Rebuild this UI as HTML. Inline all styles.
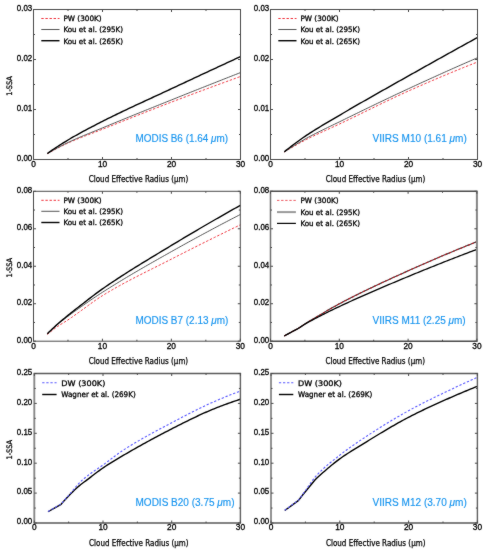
<!DOCTYPE html>
<html><head><meta charset="utf-8"><style>
html,body{margin:0;padding:0;background:#fff;width:485px;height:550px;overflow:hidden}
svg{display:block}
.t{font-family:"Liberation Sans", Arial, sans-serif;font-size:8.3px;fill:#000;stroke:#000;stroke-width:0.3px}
.xl{font-family:"DejaVu Sans", sans-serif;font-size:8.0px;fill:#000;stroke:#000;stroke-width:0.25px}
.yl{font-family:"DejaVu Sans", sans-serif;font-size:7.5px;fill:#000;stroke:#000;stroke-width:0.3px}
.lg{font-family:"DejaVu Sans", sans-serif;font-size:7.4px;fill:#000;stroke:#000;stroke-width:0.3px}
.lg2{font-family:"DejaVu Sans", sans-serif;font-size:7.6px;fill:#000;stroke:#000;stroke-width:0.3px}
.ti{font-family:"Liberation Sans", Arial, sans-serif;font-size:10px;fill:#1895ef;stroke:#1895ef;stroke-width:0.15px}
</style></head><body>
<svg width="485" height="550" viewBox="0 0 485 550">
<defs><filter id="sf" filterUnits="userSpaceOnUse" x="0" y="0" width="485" height="550" color-interpolation-filters="sRGB"><feConvolveMatrix order="3" kernelMatrix="1 2 1 2 36 2 1 2 1" edgeMode="duplicate"/></filter></defs>
<g filter="url(#sf)">
<rect width="485" height="550" fill="#fff"/>
<g><path d="M47.3 153.75 L49.02 152.78 L50.75 151.82 L52.48 150.87 L54.2 149.93 L55.92 149.01 L57.65 148.09 L59.38 147.2 L61.1 146.32 L62.83 145.46 L64.55 144.62 L66.28 143.8 L68 143 L69.72 142.22 L71.45 141.46 L73.17 140.72 L74.9 139.99 L76.62 139.28 L78.35 138.58 L80.08 137.89 L81.8 137.21 L83.53 136.53 L85.25 135.87 L86.97 135.21 L88.7 134.55 L90.42 133.89 L92.15 133.24 L93.88 132.58 L95.6 131.93 L97.33 131.27 L99.05 130.6 L100.78 129.93 L102.5 129.25 L104.22 128.57 L105.95 127.88 L107.67 127.2 L109.4 126.51 L111.12 125.83 L112.85 125.14 L114.58 124.46 L116.3 123.77 L118.03 123.08 L119.75 122.4 L121.47 121.71 L123.2 121.03 L124.92 120.34 L126.65 119.66 L128.38 118.97 L130.1 118.29 L131.82 117.6 L133.55 116.92 L135.28 116.23 L137 115.55 L138.72 114.87 L140.45 114.19 L142.18 113.51 L143.9 112.83 L145.62 112.15 L147.35 111.47 L149.07 110.79 L150.8 110.12 L152.53 109.44 L154.25 108.77 L155.97 108.09 L157.7 107.42 L159.43 106.75 L161.15 106.08 L162.88 105.41 L164.6 104.75 L166.32 104.08 L168.05 103.42 L169.78 102.76 L171.5 102.1 L173.22 101.44 L174.95 100.78 L176.68 100.13 L178.4 99.47 L180.12 98.82 L181.85 98.16 L183.57 97.51 L185.3 96.86 L187.03 96.21 L188.75 95.56 L190.47 94.91 L192.2 94.26 L193.93 93.61 L195.65 92.97 L197.38 92.32 L199.1 91.68 L200.82 91.03 L202.55 90.39 L204.28 89.75 L206 89.11 L207.72 88.47 L209.45 87.83 L211.18 87.19 L212.9 86.56 L214.62 85.92 L216.35 85.29 L218.07 84.65 L219.8 84.02 L221.53 83.39 L223.25 82.76 L224.97 82.13 L226.7 81.5 L228.43 80.87 L230.15 80.24 L231.88 79.62 L233.6 78.99 L235.32 78.37 L237.05 77.74 L238.78 77.12 L240.5 76.5" fill="none" stroke="#f0303a" stroke-width="1.0" stroke-dasharray="2.4 1.7" stroke-linejoin="round"/><path d="M47.3 153.6 L49.02 152.61 L50.75 151.62 L52.48 150.64 L54.2 149.68 L55.92 148.73 L57.65 147.79 L59.38 146.86 L61.1 145.96 L62.83 145.06 L64.55 144.19 L66.28 143.33 L68 142.5 L69.72 141.68 L71.45 140.89 L73.17 140.1 L74.9 139.33 L76.62 138.57 L78.35 137.83 L80.08 137.09 L81.8 136.36 L83.53 135.64 L85.25 134.93 L86.97 134.22 L88.7 133.52 L90.42 132.82 L92.15 132.12 L93.88 131.42 L95.6 130.72 L97.33 130.02 L99.05 129.32 L100.78 128.61 L102.5 127.9 L104.22 127.18 L105.95 126.47 L107.67 125.76 L109.4 125.04 L111.12 124.33 L112.85 123.62 L114.58 122.91 L116.3 122.2 L118.03 121.5 L119.75 120.79 L121.47 120.09 L123.2 119.38 L124.92 118.68 L126.65 117.98 L128.38 117.27 L130.1 116.57 L131.82 115.87 L133.55 115.17 L135.28 114.47 L137 113.77 L138.72 113.08 L140.45 112.38 L142.18 111.68 L143.9 110.99 L145.62 110.29 L147.35 109.6 L149.07 108.9 L150.8 108.21 L152.53 107.51 L154.25 106.82 L155.97 106.13 L157.7 105.43 L159.43 104.74 L161.15 104.05 L162.88 103.36 L164.6 102.67 L166.32 101.97 L168.05 101.28 L169.78 100.59 L171.5 99.9 L173.22 99.21 L174.95 98.52 L176.68 97.83 L178.4 97.14 L180.12 96.45 L181.85 95.76 L183.57 95.07 L185.3 94.38 L187.03 93.7 L188.75 93.01 L190.47 92.32 L192.2 91.64 L193.93 90.95 L195.65 90.27 L197.38 89.58 L199.1 88.9 L200.82 88.21 L202.55 87.53 L204.28 86.85 L206 86.16 L207.72 85.48 L209.45 84.8 L211.18 84.12 L212.9 83.44 L214.62 82.76 L216.35 82.08 L218.07 81.4 L219.8 80.72 L221.53 80.04 L223.25 79.36 L224.97 78.68 L226.7 78 L228.43 77.33 L230.15 76.65 L231.88 75.97 L233.6 75.3 L235.32 74.62 L237.05 73.95 L238.78 73.27 L240.5 72.6" fill="none" stroke="#555" stroke-width="1" stroke-linejoin="round"/><path d="M47.3 153.5 L49.02 152.31 L50.75 151.12 L52.48 149.95 L54.2 148.79 L55.92 147.63 L57.65 146.5 L59.38 145.37 L61.1 144.26 L62.83 143.17 L64.55 142.09 L66.28 141.04 L68 140 L69.72 138.98 L71.45 137.97 L73.17 136.97 L74.9 135.99 L76.62 135.02 L78.35 134.05 L80.08 133.1 L81.8 132.16 L83.53 131.22 L85.25 130.3 L86.97 129.38 L88.7 128.47 L90.42 127.56 L92.15 126.66 L93.88 125.77 L95.6 124.88 L97.33 123.99 L99.05 123.11 L100.78 122.23 L102.5 121.35 L104.22 120.48 L105.95 119.61 L107.67 118.74 L109.4 117.89 L111.12 117.03 L112.85 116.18 L114.58 115.34 L116.3 114.5 L118.03 113.66 L119.75 112.83 L121.47 112 L123.2 111.18 L124.92 110.36 L126.65 109.54 L128.38 108.73 L130.1 107.91 L131.82 107.1 L133.55 106.3 L135.28 105.49 L137 104.69 L138.72 103.88 L140.45 103.08 L142.18 102.28 L143.9 101.49 L145.62 100.69 L147.35 99.89 L149.07 99.1 L150.8 98.3 L152.53 97.51 L154.25 96.71 L155.97 95.91 L157.7 95.12 L159.43 94.32 L161.15 93.52 L162.88 92.72 L164.6 91.92 L166.32 91.12 L168.05 90.31 L169.78 89.51 L171.5 88.7 L173.22 87.89 L174.95 87.08 L176.68 86.27 L178.4 85.47 L180.12 84.66 L181.85 83.85 L183.57 83.04 L185.3 82.24 L187.03 81.43 L188.75 80.62 L190.47 79.82 L192.2 79.01 L193.93 78.21 L195.65 77.4 L197.38 76.6 L199.1 75.79 L200.82 74.99 L202.55 74.19 L204.28 73.38 L206 72.58 L207.72 71.78 L209.45 70.98 L211.18 70.18 L212.9 69.37 L214.62 68.57 L216.35 67.77 L218.07 66.97 L219.8 66.17 L221.53 65.37 L223.25 64.57 L224.97 63.77 L226.7 62.98 L228.43 62.18 L230.15 61.38 L231.88 60.58 L233.6 59.79 L235.32 58.99 L237.05 58.19 L238.78 57.4 L240.5 56.6" fill="none" stroke="#000" stroke-width="1.4" stroke-linejoin="round"/><rect x="33.5" y="9.5" width="207" height="150" fill="none" stroke="#4a4a4a" stroke-width="1"/><path d="M33.5 159.5v-2.5M33.5 9.5v2.5M68 159.5v-1.5M68 9.5v1.5M102.5 159.5v-2.5M102.5 9.5v2.5M137 159.5v-1.5M137 9.5v1.5M171.5 159.5v-2.5M171.5 9.5v2.5M206 159.5v-1.5M206 9.5v1.5M240.5 159.5v-2.5M240.5 9.5v2.5M33.5 159.5h2.5M240.5 159.5h-2.5M33.5 134.5h1.5M240.5 134.5h-1.5M33.5 109.5h2.5M240.5 109.5h-2.5M33.5 84.5h1.5M240.5 84.5h-1.5M33.5 59.5h2.5M240.5 59.5h-2.5M33.5 34.5h1.5M240.5 34.5h-1.5M33.5 9.5h2.5M240.5 9.5h-2.5" stroke="#4a4a4a" stroke-width="1" fill="none"/><text x="33.5" y="166.8" text-anchor="middle" class="t">0</text><text x="102.5" y="166.8" text-anchor="middle" class="t">10</text><text x="171.5" y="166.8" text-anchor="middle" class="t">20</text><text x="240.5" y="166.8" text-anchor="middle" class="t">30</text><text x="32.2" y="160.8" text-anchor="end" class="t" textLength="15.4" lengthAdjust="spacingAndGlyphs">0.00</text><text x="32.2" y="110.8" text-anchor="end" class="t" textLength="15.4" lengthAdjust="spacingAndGlyphs">0.01</text><text x="32.2" y="60.8" text-anchor="end" class="t" textLength="15.4" lengthAdjust="spacingAndGlyphs">0.02</text><text x="32.2" y="10.8" text-anchor="end" class="t" textLength="15.4" lengthAdjust="spacingAndGlyphs">0.03</text><text x="138.5" y="182.3" text-anchor="middle" class="xl" textLength="99.5" lengthAdjust="spacingAndGlyphs">Cloud Effective Radius (μm)</text><text transform="translate(11.6 86) rotate(-90)" text-anchor="middle" class="yl" textLength="19.6" lengthAdjust="spacingAndGlyphs">1-SSA</text><text x="135.5" y="142" class="ti" textLength="92.5" lengthAdjust="spacingAndGlyphs">MODIS B6 (1.64 <tspan font-style="italic">μ</tspan>m)</text><path d="M41.3 18.5H59.5" stroke="#f0303a" stroke-width="1.0" stroke-dasharray="2.4 1.7"/><text x="63.4" y="21.4" class="lg" textLength="38.3" lengthAdjust="spacingAndGlyphs">PW (300K)</text><path d="M41.3 29.5H59.5" stroke="#555" stroke-width="1"/><text x="63.4" y="32.4" class="lg" textLength="59.6" lengthAdjust="spacingAndGlyphs">Kou et al. (295K)</text><path d="M41.3 40.7H59.5" stroke="#000" stroke-width="1.4"/><text x="63.4" y="43.6" class="lg" textLength="59.6" lengthAdjust="spacingAndGlyphs">Kou et al. (265K)</text></g>
<g><path d="M284.3 152 L286.02 150.96 L287.75 149.92 L289.48 148.89 L291.2 147.87 L292.93 146.87 L294.65 145.87 L296.38 144.89 L298.1 143.92 L299.82 142.97 L301.55 142.03 L303.27 141.1 L305 140.2 L306.73 139.31 L308.45 138.44 L310.18 137.59 L311.9 136.75 L313.62 135.92 L315.35 135.1 L317.07 134.29 L318.8 133.49 L320.52 132.69 L322.25 131.9 L323.98 131.12 L325.7 130.33 L327.43 129.55 L329.15 128.77 L330.88 127.99 L332.6 127.2 L334.32 126.41 L336.05 125.62 L337.77 124.81 L339.5 124 L341.23 123.18 L342.95 122.36 L344.68 121.54 L346.4 120.71 L348.12 119.88 L349.85 119.05 L351.57 118.21 L353.3 117.37 L355.02 116.54 L356.75 115.7 L358.48 114.86 L360.2 114.02 L361.93 113.17 L363.65 112.33 L365.38 111.49 L367.1 110.64 L368.82 109.8 L370.55 108.96 L372.27 108.12 L374 107.28 L375.73 106.44 L377.45 105.6 L379.18 104.76 L380.9 103.93 L382.62 103.09 L384.35 102.26 L386.07 101.43 L387.8 100.61 L389.52 99.79 L391.25 98.97 L392.98 98.15 L394.7 97.34 L396.43 96.53 L398.15 95.73 L399.88 94.93 L401.6 94.13 L403.32 93.34 L405.05 92.55 L406.77 91.77 L408.5 91 L410.23 90.23 L411.95 89.46 L413.68 88.69 L415.4 87.93 L417.12 87.17 L418.85 86.41 L420.57 85.65 L422.3 84.9 L424.02 84.14 L425.75 83.39 L427.48 82.64 L429.2 81.9 L430.93 81.16 L432.65 80.41 L434.38 79.68 L436.1 78.94 L437.82 78.2 L439.55 77.47 L441.27 76.74 L443 76.02 L444.73 75.29 L446.45 74.57 L448.18 73.85 L449.9 73.13 L451.62 72.42 L453.35 71.71 L455.07 71 L456.8 70.29 L458.52 69.58 L460.25 68.88 L461.98 68.18 L463.7 67.48 L465.43 66.79 L467.15 66.1 L468.88 65.41 L470.6 64.72 L472.32 64.04 L474.05 63.36 L475.77 62.68 L477.5 62" fill="none" stroke="#f0303a" stroke-width="1.0" stroke-dasharray="2.4 1.7" stroke-linejoin="round"/><path d="M284.3 152 L286.02 150.85 L287.75 149.71 L289.48 148.58 L291.2 147.46 L292.93 146.36 L294.65 145.27 L296.38 144.2 L298.1 143.14 L299.82 142.1 L301.55 141.08 L303.27 140.08 L305 139.1 L306.73 138.14 L308.45 137.2 L310.18 136.28 L311.9 135.37 L313.62 134.47 L315.35 133.59 L317.07 132.72 L318.8 131.85 L320.52 131 L322.25 130.15 L323.98 129.31 L325.7 128.47 L327.43 127.64 L329.15 126.81 L330.88 125.98 L332.6 125.15 L334.32 124.32 L336.05 123.48 L337.77 122.64 L339.5 121.8 L341.23 120.95 L342.95 120.11 L344.68 119.26 L346.4 118.41 L348.12 117.57 L349.85 116.73 L351.57 115.88 L353.3 115.04 L355.02 114.2 L356.75 113.36 L358.48 112.52 L360.2 111.68 L361.93 110.84 L363.65 110.01 L365.38 109.17 L367.1 108.34 L368.82 107.5 L370.55 106.67 L372.27 105.84 L374 105.01 L375.73 104.18 L377.45 103.35 L379.18 102.53 L380.9 101.7 L382.62 100.88 L384.35 100.06 L386.07 99.23 L387.8 98.42 L389.52 97.6 L391.25 96.78 L392.98 95.97 L394.7 95.15 L396.43 94.34 L398.15 93.53 L399.88 92.72 L401.6 91.91 L403.32 91.11 L405.05 90.3 L406.77 89.5 L408.5 88.7 L410.23 87.9 L411.95 87.1 L413.68 86.31 L415.4 85.51 L417.12 84.72 L418.85 83.92 L420.57 83.13 L422.3 82.34 L424.02 81.55 L425.75 80.77 L427.48 79.98 L429.2 79.19 L430.93 78.41 L432.65 77.63 L434.38 76.85 L436.1 76.07 L437.82 75.29 L439.55 74.51 L441.27 73.74 L443 72.96 L444.73 72.19 L446.45 71.42 L448.18 70.64 L449.9 69.88 L451.62 69.11 L453.35 68.34 L455.07 67.58 L456.8 66.81 L458.52 66.05 L460.25 65.29 L461.98 64.53 L463.7 63.77 L465.43 63.01 L467.15 62.26 L468.88 61.5 L470.6 60.75 L472.32 60 L474.05 59.25 L475.77 58.5 L477.5 57.75" fill="none" stroke="#555" stroke-width="1" stroke-linejoin="round"/><path d="M284.3 151.75 L286.02 150.38 L287.75 149.03 L289.48 147.69 L291.2 146.36 L292.93 145.04 L294.65 143.74 L296.38 142.46 L298.1 141.2 L299.82 139.95 L301.55 138.73 L303.27 137.53 L305 136.35 L306.73 135.19 L308.45 134.06 L310.18 132.93 L311.9 131.83 L313.62 130.74 L315.35 129.66 L317.07 128.6 L318.8 127.54 L320.52 126.5 L322.25 125.46 L323.98 124.43 L325.7 123.41 L327.43 122.39 L329.15 121.38 L330.88 120.37 L332.6 119.36 L334.32 118.35 L336.05 117.33 L337.77 116.32 L339.5 115.3 L341.23 114.28 L342.95 113.26 L344.68 112.25 L346.4 111.24 L348.12 110.23 L349.85 109.22 L351.57 108.22 L353.3 107.22 L355.02 106.22 L356.75 105.22 L358.48 104.23 L360.2 103.23 L361.93 102.24 L363.65 101.25 L365.38 100.27 L367.1 99.28 L368.82 98.3 L370.55 97.32 L372.27 96.33 L374 95.35 L375.73 94.38 L377.45 93.4 L379.18 92.42 L380.9 91.45 L382.62 90.47 L384.35 89.5 L386.07 88.53 L387.8 87.55 L389.52 86.58 L391.25 85.61 L392.98 84.64 L394.7 83.67 L396.43 82.7 L398.15 81.73 L399.88 80.76 L401.6 79.79 L403.32 78.81 L405.05 77.84 L406.77 76.87 L408.5 75.9 L410.23 74.93 L411.95 73.96 L413.68 72.99 L415.4 72.02 L417.12 71.05 L418.85 70.08 L420.57 69.11 L422.3 68.14 L424.02 67.17 L425.75 66.21 L427.48 65.24 L429.2 64.28 L430.93 63.31 L432.65 62.35 L434.38 61.38 L436.1 60.42 L437.82 59.46 L439.55 58.5 L441.27 57.54 L443 56.58 L444.73 55.62 L446.45 54.66 L448.18 53.7 L449.9 52.74 L451.62 51.78 L453.35 50.83 L455.07 49.87 L456.8 48.92 L458.52 47.96 L460.25 47.01 L461.98 46.05 L463.7 45.1 L465.43 44.15 L467.15 43.2 L468.88 42.25 L470.6 41.3 L472.32 40.35 L474.05 39.4 L475.77 38.45 L477.5 37.5" fill="none" stroke="#000" stroke-width="1.4" stroke-linejoin="round"/><rect x="270.5" y="9.5" width="207" height="150" fill="none" stroke="#4a4a4a" stroke-width="1"/><path d="M270.5 159.5v-2.5M270.5 9.5v2.5M305 159.5v-1.5M305 9.5v1.5M339.5 159.5v-2.5M339.5 9.5v2.5M374 159.5v-1.5M374 9.5v1.5M408.5 159.5v-2.5M408.5 9.5v2.5M443 159.5v-1.5M443 9.5v1.5M477.5 159.5v-2.5M477.5 9.5v2.5M270.5 159.5h2.5M477.5 159.5h-2.5M270.5 134.5h1.5M477.5 134.5h-1.5M270.5 109.5h2.5M477.5 109.5h-2.5M270.5 84.5h1.5M477.5 84.5h-1.5M270.5 59.5h2.5M477.5 59.5h-2.5M270.5 34.5h1.5M477.5 34.5h-1.5M270.5 9.5h2.5M477.5 9.5h-2.5" stroke="#4a4a4a" stroke-width="1" fill="none"/><text x="270.5" y="166.8" text-anchor="middle" class="t">0</text><text x="339.5" y="166.8" text-anchor="middle" class="t">10</text><text x="408.5" y="166.8" text-anchor="middle" class="t">20</text><text x="477.5" y="166.8" text-anchor="middle" class="t">30</text><text x="269.2" y="160.8" text-anchor="end" class="t" textLength="15.4" lengthAdjust="spacingAndGlyphs">0.00</text><text x="269.2" y="110.8" text-anchor="end" class="t" textLength="15.4" lengthAdjust="spacingAndGlyphs">0.01</text><text x="269.2" y="60.8" text-anchor="end" class="t" textLength="15.4" lengthAdjust="spacingAndGlyphs">0.02</text><text x="269.2" y="10.8" text-anchor="end" class="t" textLength="15.4" lengthAdjust="spacingAndGlyphs">0.03</text><text x="375.5" y="182.3" text-anchor="middle" class="xl" textLength="99.5" lengthAdjust="spacingAndGlyphs">Cloud Effective Radius (μm)</text><text x="372.6" y="142" class="ti" textLength="94.2" lengthAdjust="spacingAndGlyphs">VIIRS M10 (1.61 <tspan font-style="italic">μ</tspan>m)</text><path d="M278.3 18.5H296.5" stroke="#f0303a" stroke-width="1.0" stroke-dasharray="2.4 1.7"/><text x="300.4" y="21.4" class="lg" textLength="38.3" lengthAdjust="spacingAndGlyphs">PW (300K)</text><path d="M278.3 29.5H296.5" stroke="#555" stroke-width="1"/><text x="300.4" y="32.4" class="lg" textLength="59.6" lengthAdjust="spacingAndGlyphs">Kou et al. (295K)</text><path d="M278.3 40.7H296.5" stroke="#000" stroke-width="1.4"/><text x="300.4" y="43.6" class="lg" textLength="59.6" lengthAdjust="spacingAndGlyphs">Kou et al. (265K)</text></g>
<g><path d="M47.29 334.45 L49.01 333.02 L50.73 331.62 L52.46 330.26 L54.18 328.95 L55.9 327.68 L57.63 326.45 L59.35 325.28 L61.07 324.19 L62.8 323.13 L64.52 322.09 L66.24 321.02 L67.97 319.91 L69.69 318.75 L71.41 317.55 L73.14 316.34 L74.86 315.11 L76.58 313.88 L78.31 312.66 L80.03 311.44 L81.75 310.2 L83.48 308.95 L85.2 307.69 L86.92 306.42 L88.65 305.16 L90.37 303.91 L92.09 302.66 L93.82 301.43 L95.54 300.22 L97.26 299.04 L98.99 297.88 L100.71 296.75 L102.43 295.67 L104.16 294.61 L105.88 293.56 L107.6 292.53 L109.33 291.51 L111.05 290.5 L112.77 289.5 L114.5 288.52 L116.22 287.54 L117.94 286.57 L119.67 285.62 L121.39 284.67 L123.11 283.73 L124.84 282.8 L126.56 281.88 L128.28 280.97 L130.01 280.06 L131.73 279.16 L133.45 278.26 L135.18 277.37 L136.9 276.49 L138.62 275.61 L140.35 274.73 L142.07 273.86 L143.79 272.99 L145.52 272.12 L147.24 271.26 L148.96 270.4 L150.69 269.54 L152.41 268.67 L154.13 267.81 L155.86 266.95 L157.58 266.09 L159.3 265.23 L161.03 264.37 L162.75 263.5 L164.47 262.63 L166.2 261.76 L167.92 260.89 L169.64 260.01 L171.37 259.13 L173.09 258.25 L174.81 257.36 L176.54 256.48 L178.26 255.6 L179.98 254.72 L181.71 253.85 L183.43 252.97 L185.15 252.1 L186.88 251.22 L188.6 250.35 L190.32 249.48 L192.05 248.61 L193.77 247.74 L195.49 246.88 L197.22 246.01 L198.94 245.15 L200.66 244.29 L202.39 243.43 L204.11 242.57 L205.83 241.71 L207.56 240.85 L209.28 240 L211 239.14 L212.73 238.29 L214.45 237.44 L216.17 236.59 L217.9 235.74 L219.62 234.89 L221.34 234.05 L223.07 233.2 L224.79 232.36 L226.51 231.52 L228.24 230.68 L229.96 229.84 L231.68 229 L233.41 228.17 L235.13 227.33 L236.85 226.5 L238.58 225.67 L240.3 224.84" fill="none" stroke="#f0303a" stroke-width="1.0" stroke-dasharray="2.4 1.7" stroke-linejoin="round"/><path d="M47.29 333.89 L49.01 332.23 L50.73 330.6 L52.46 329 L54.18 327.44 L55.9 325.92 L57.63 324.44 L59.35 323 L61.07 321.6 L62.8 320.24 L64.52 318.91 L66.24 317.59 L67.97 316.28 L69.69 314.98 L71.41 313.7 L73.14 312.44 L74.86 311.19 L76.58 309.95 L78.31 308.73 L80.03 307.51 L81.75 306.29 L83.48 305.08 L85.2 303.88 L86.92 302.68 L88.65 301.49 L90.37 300.3 L92.09 299.13 L93.82 297.96 L95.54 296.81 L97.26 295.66 L98.99 294.53 L100.71 293.4 L102.43 292.3 L104.16 291.2 L105.88 290.1 L107.6 289.02 L109.33 287.93 L111.05 286.86 L112.77 285.79 L114.5 284.72 L116.22 283.66 L117.94 282.61 L119.67 281.56 L121.39 280.52 L123.11 279.47 L124.84 278.44 L126.56 277.41 L128.28 276.38 L130.01 275.36 L131.73 274.34 L133.45 273.32 L135.18 272.31 L136.9 271.3 L138.62 270.3 L140.35 269.3 L142.07 268.3 L143.79 267.3 L145.52 266.31 L147.24 265.32 L148.96 264.33 L150.69 263.34 L152.41 262.36 L154.13 261.38 L155.86 260.4 L157.58 259.42 L159.3 258.44 L161.03 257.47 L162.75 256.49 L164.47 255.52 L166.2 254.55 L167.92 253.58 L169.64 252.6 L171.37 251.63 L173.09 250.67 L174.81 249.7 L176.54 248.73 L178.26 247.77 L179.98 246.81 L181.71 245.85 L183.43 244.89 L185.15 243.94 L186.88 242.99 L188.6 242.04 L190.32 241.09 L192.05 240.14 L193.77 239.2 L195.49 238.26 L197.22 237.32 L198.94 236.38 L200.66 235.44 L202.39 234.51 L204.11 233.58 L205.83 232.65 L207.56 231.72 L209.28 230.8 L211 229.88 L212.73 228.96 L214.45 228.04 L216.17 227.12 L217.9 226.21 L219.62 225.3 L221.34 224.39 L223.07 223.48 L224.79 222.57 L226.51 221.67 L228.24 220.77 L229.96 219.87 L231.68 218.98 L233.41 218.09 L235.13 217.19 L236.85 216.31 L238.58 215.42 L240.3 214.53" fill="none" stroke="#555" stroke-width="1" stroke-linejoin="round"/><path d="M47.29 333.7 L49.01 332.04 L50.73 330.4 L52.46 328.78 L54.18 327.19 L55.9 325.62 L57.63 324.08 L59.35 322.56 L61.07 321.08 L62.8 319.62 L64.52 318.18 L66.24 316.75 L67.97 315.34 L69.69 313.95 L71.41 312.58 L73.14 311.22 L74.86 309.88 L76.58 308.54 L78.31 307.21 L80.03 305.87 L81.75 304.52 L83.48 303.18 L85.2 301.84 L86.92 300.5 L88.65 299.16 L90.37 297.83 L92.09 296.51 L93.82 295.21 L95.54 293.91 L97.26 292.64 L98.99 291.38 L100.71 290.14 L102.43 288.92 L104.16 287.72 L105.88 286.53 L107.6 285.35 L109.33 284.18 L111.05 283.02 L112.77 281.86 L114.5 280.71 L116.22 279.57 L117.94 278.44 L119.67 277.31 L121.39 276.19 L123.11 275.08 L124.84 273.97 L126.56 272.87 L128.28 271.78 L130.01 270.69 L131.73 269.61 L133.45 268.53 L135.18 267.45 L136.9 266.38 L138.62 265.31 L140.35 264.25 L142.07 263.19 L143.79 262.14 L145.52 261.08 L147.24 260.03 L148.96 258.99 L150.69 257.94 L152.41 256.9 L154.13 255.85 L155.86 254.81 L157.58 253.77 L159.3 252.73 L161.03 251.69 L162.75 250.65 L164.47 249.61 L166.2 248.57 L167.92 247.53 L169.64 246.49 L171.37 245.45 L173.09 244.41 L174.81 243.37 L176.54 242.33 L178.26 241.3 L179.98 240.26 L181.71 239.23 L183.43 238.2 L185.15 237.17 L186.88 236.14 L188.6 235.12 L190.32 234.1 L192.05 233.08 L193.77 232.06 L195.49 231.04 L197.22 230.03 L198.94 229.02 L200.66 228.01 L202.39 227 L204.11 225.99 L205.83 224.99 L207.56 223.99 L209.28 222.99 L211 221.99 L212.73 220.99 L214.45 220 L216.17 219.01 L217.9 218.02 L219.62 217.03 L221.34 216.05 L223.07 215.06 L224.79 214.08 L226.51 213.11 L228.24 212.13 L229.96 211.15 L231.68 210.18 L233.41 209.21 L235.13 208.24 L236.85 207.28 L238.58 206.31 L240.3 205.35" fill="none" stroke="#000" stroke-width="1.4" stroke-linejoin="round"/><rect x="33.5" y="191.3" width="206.8" height="149.9" fill="none" stroke="#4a4a4a" stroke-width="1"/><path d="M33.5 341.2v-2.5M33.5 191.3v2.5M67.97 341.2v-1.5M67.97 191.3v1.5M102.43 341.2v-2.5M102.43 191.3v2.5M136.9 341.2v-1.5M136.9 191.3v1.5M171.37 341.2v-2.5M171.37 191.3v2.5M205.83 341.2v-1.5M205.83 191.3v1.5M240.3 341.2v-2.5M240.3 191.3v2.5M33.5 341.2h2.5M240.3 341.2h-2.5M33.5 322.46h1.5M240.3 322.46h-1.5M33.5 303.73h2.5M240.3 303.73h-2.5M33.5 284.99h1.5M240.3 284.99h-1.5M33.5 266.25h2.5M240.3 266.25h-2.5M33.5 247.51h1.5M240.3 247.51h-1.5M33.5 228.78h2.5M240.3 228.78h-2.5M33.5 210.04h1.5M240.3 210.04h-1.5M33.5 191.3h2.5M240.3 191.3h-2.5" stroke="#4a4a4a" stroke-width="1" fill="none"/><text x="33.5" y="348.5" text-anchor="middle" class="t">0</text><text x="102.43" y="348.5" text-anchor="middle" class="t">10</text><text x="171.37" y="348.5" text-anchor="middle" class="t">20</text><text x="240.3" y="348.5" text-anchor="middle" class="t">30</text><text x="32.2" y="342.5" text-anchor="end" class="t" textLength="15.4" lengthAdjust="spacingAndGlyphs">0.00</text><text x="32.2" y="305.03" text-anchor="end" class="t" textLength="15.4" lengthAdjust="spacingAndGlyphs">0.02</text><text x="32.2" y="267.55" text-anchor="end" class="t" textLength="15.4" lengthAdjust="spacingAndGlyphs">0.04</text><text x="32.2" y="230.08" text-anchor="end" class="t" textLength="15.4" lengthAdjust="spacingAndGlyphs">0.06</text><text x="32.2" y="192.6" text-anchor="end" class="t" textLength="15.4" lengthAdjust="spacingAndGlyphs">0.08</text><text x="138.4" y="364" text-anchor="middle" class="xl" textLength="99.5" lengthAdjust="spacingAndGlyphs">Cloud Effective Radius (μm)</text><text transform="translate(11.6 267.75) rotate(-90)" text-anchor="middle" class="yl" textLength="19.6" lengthAdjust="spacingAndGlyphs">1-SSA</text><text x="135.5" y="323.7" class="ti" textLength="92.8" lengthAdjust="spacingAndGlyphs">MODIS B7 (2.13 <tspan font-style="italic">μ</tspan>m)</text><path d="M41.3 200.3H59.5" stroke="#f0303a" stroke-width="1.0" stroke-dasharray="2.4 1.7"/><text x="63.4" y="203.2" class="lg" textLength="38.3" lengthAdjust="spacingAndGlyphs">PW (300K)</text><path d="M41.3 211.3H59.5" stroke="#555" stroke-width="1"/><text x="63.4" y="214.2" class="lg" textLength="59.6" lengthAdjust="spacingAndGlyphs">Kou et al. (295K)</text><path d="M41.3 222.5H59.5" stroke="#000" stroke-width="1.4"/><text x="63.4" y="225.4" class="lg" textLength="59.6" lengthAdjust="spacingAndGlyphs">Kou et al. (265K)</text></g>
<g><path d="M284.26 336.01 L285.98 335.05 L287.7 334.09 L289.42 333.14 L291.14 332.2 L292.86 331.27 L294.58 330.38 L296.3 329.49 L298.02 328.56 L299.74 327.52 L301.46 326.35 L303.18 325.13 L304.9 323.96 L306.62 322.88 L308.34 321.83 L310.06 320.8 L311.78 319.79 L313.5 318.78 L315.22 317.76 L316.94 316.74 L318.66 315.72 L320.38 314.69 L322.1 313.67 L323.82 312.64 L325.54 311.62 L327.26 310.61 L328.98 309.6 L330.7 308.61 L332.42 307.62 L334.14 306.65 L335.86 305.69 L337.58 304.74 L339.3 303.82 L341.02 302.91 L342.74 302 L344.46 301.1 L346.18 300.21 L347.9 299.32 L349.62 298.44 L351.34 297.56 L353.06 296.69 L354.78 295.82 L356.5 294.96 L358.22 294.11 L359.94 293.26 L361.66 292.41 L363.38 291.57 L365.1 290.74 L366.82 289.9 L368.54 289.08 L370.26 288.25 L371.98 287.43 L373.7 286.62 L375.42 285.8 L377.14 285 L378.86 284.19 L380.58 283.39 L382.3 282.59 L384.02 281.79 L385.74 281 L387.46 280.2 L389.18 279.41 L390.9 278.63 L392.62 277.84 L394.34 277.06 L396.06 276.28 L397.78 275.5 L399.5 274.72 L401.22 273.94 L402.94 273.16 L404.66 272.39 L406.38 271.61 L408.1 270.84 L409.82 270.07 L411.54 269.3 L413.26 268.53 L414.98 267.76 L416.7 267 L418.42 266.24 L420.14 265.48 L421.86 264.72 L423.58 263.97 L425.3 263.21 L427.02 262.46 L428.74 261.71 L430.46 260.97 L432.18 260.22 L433.9 259.48 L435.62 258.74 L437.34 258 L439.06 257.27 L440.78 256.54 L442.5 255.81 L444.22 255.08 L445.94 254.35 L447.66 253.63 L449.38 252.91 L451.1 252.19 L452.82 251.47 L454.54 250.76 L456.26 250.05 L457.98 249.34 L459.7 248.63 L461.42 247.93 L463.14 247.23 L464.86 246.53 L466.58 245.83 L468.3 245.14 L470.02 244.45 L471.74 243.76 L473.46 243.07 L475.18 242.39 L476.9 241.7" fill="none" stroke="#3a3a3a" stroke-width="1.15" stroke-linejoin="round"/><path d="M284.26 336.01 L285.98 335.05 L287.7 334.09 L289.42 333.14 L291.14 332.2 L292.86 331.27 L294.58 330.38 L296.3 329.49 L298.02 328.56 L299.74 327.52 L301.46 326.35 L303.18 325.13 L304.9 323.96 L306.62 322.88 L308.34 321.83 L310.06 320.8 L311.78 319.79 L313.5 318.78 L315.22 317.76 L316.94 316.74 L318.66 315.72 L320.38 314.69 L322.1 313.67 L323.82 312.64 L325.54 311.62 L327.26 310.61 L328.98 309.6 L330.7 308.61 L332.42 307.62 L334.14 306.65 L335.86 305.69 L337.58 304.74 L339.3 303.82 L341.02 302.91 L342.74 302 L344.46 301.1 L346.18 300.21 L347.9 299.32 L349.62 298.44 L351.34 297.56 L353.06 296.69 L354.78 295.82 L356.5 294.96 L358.22 294.11 L359.94 293.26 L361.66 292.41 L363.38 291.57 L365.1 290.74 L366.82 289.9 L368.54 289.08 L370.26 288.25 L371.98 287.43 L373.7 286.62 L375.42 285.8 L377.14 285 L378.86 284.19 L380.58 283.39 L382.3 282.59 L384.02 281.79 L385.74 281 L387.46 280.2 L389.18 279.41 L390.9 278.63 L392.62 277.84 L394.34 277.06 L396.06 276.28 L397.78 275.5 L399.5 274.72 L401.22 273.94 L402.94 273.16 L404.66 272.39 L406.38 271.61 L408.1 270.84 L409.82 270.07 L411.54 269.3 L413.26 268.53 L414.98 267.76 L416.7 267 L418.42 266.24 L420.14 265.48 L421.86 264.72 L423.58 263.97 L425.3 263.21 L427.02 262.46 L428.74 261.71 L430.46 260.97 L432.18 260.22 L433.9 259.48 L435.62 258.74 L437.34 258 L439.06 257.27 L440.78 256.54 L442.5 255.81 L444.22 255.08 L445.94 254.35 L447.66 253.63 L449.38 252.91 L451.1 252.19 L452.82 251.47 L454.54 250.76 L456.26 250.05 L457.98 249.34 L459.7 248.63 L461.42 247.93 L463.14 247.23 L464.86 246.53 L466.58 245.83 L468.3 245.14 L470.02 244.45 L471.74 243.76 L473.46 243.07 L475.18 242.39 L476.9 241.7" fill="none" stroke="#b8141e" stroke-width="1.05" stroke-dasharray="2.4 1.7" stroke-linejoin="round"/><path d="M284.26 336.01 L285.98 335.05 L287.7 334.09 L289.42 333.14 L291.14 332.2 L292.86 331.27 L294.58 330.37 L296.3 329.48 L298.02 328.56 L299.74 327.54 L301.46 326.4 L303.18 325.24 L304.9 324.15 L306.62 323.15 L308.34 322.18 L310.06 321.25 L311.78 320.34 L313.5 319.43 L315.22 318.53 L316.94 317.64 L318.66 316.75 L320.38 315.86 L322.1 314.98 L323.82 314.11 L325.54 313.24 L327.26 312.38 L328.98 311.52 L330.7 310.67 L332.42 309.83 L334.14 309 L335.86 308.17 L337.58 307.35 L339.3 306.54 L341.02 305.73 L342.74 304.93 L344.46 304.13 L346.18 303.33 L347.9 302.54 L349.62 301.75 L351.34 300.97 L353.06 300.19 L354.78 299.41 L356.5 298.64 L358.22 297.87 L359.94 297.1 L361.66 296.34 L363.38 295.58 L365.1 294.82 L366.82 294.06 L368.54 293.31 L370.26 292.56 L371.98 291.81 L373.7 291.07 L375.42 290.32 L377.14 289.58 L378.86 288.84 L380.58 288.11 L382.3 287.37 L384.02 286.64 L385.74 285.91 L387.46 285.18 L389.18 284.46 L390.9 283.73 L392.62 283.01 L394.34 282.29 L396.06 281.57 L397.78 280.85 L399.5 280.13 L401.22 279.41 L402.94 278.7 L404.66 277.98 L406.38 277.27 L408.1 276.56 L409.82 275.84 L411.54 275.13 L413.26 274.42 L414.98 273.72 L416.7 273.01 L418.42 272.31 L420.14 271.61 L421.86 270.91 L423.58 270.21 L425.3 269.51 L427.02 268.81 L428.74 268.12 L430.46 267.43 L432.18 266.74 L433.9 266.05 L435.62 265.36 L437.34 264.67 L439.06 263.99 L440.78 263.31 L442.5 262.63 L444.22 261.95 L445.94 261.27 L447.66 260.6 L449.38 259.92 L451.1 259.25 L452.82 258.58 L454.54 257.91 L456.26 257.25 L457.98 256.58 L459.7 255.92 L461.42 255.26 L463.14 254.6 L464.86 253.94 L466.58 253.28 L468.3 252.63 L470.02 251.98 L471.74 251.33 L473.46 250.68 L475.18 250.03 L476.9 249.39" fill="none" stroke="#000" stroke-width="1.3" stroke-linejoin="round"/><path d="M270.5 191.3H476.9M270.5 341.2H476.9" stroke="#4a4a4a" stroke-width="1.4" fill="none" stroke-linecap="square"/><path d="M270.5 191.3V341.2" stroke="#707070" stroke-width="1.5" fill="none"/><path d="M476.9 191.3V341.2" stroke="#858585" stroke-width="2.0" fill="none"/><path d="M270.5 341.2v-2.5M270.5 191.3v2.5M304.9 341.2v-1.5M304.9 191.3v1.5M339.3 341.2v-2.5M339.3 191.3v2.5M373.7 341.2v-1.5M373.7 191.3v1.5M408.1 341.2v-2.5M408.1 191.3v2.5M442.5 341.2v-1.5M442.5 191.3v1.5M476.9 341.2v-2.5M476.9 191.3v2.5M270.5 341.2h2.5M476.9 341.2h-2.5M270.5 322.46h1.5M476.9 322.46h-1.5M270.5 303.73h2.5M476.9 303.73h-2.5M270.5 284.99h1.5M476.9 284.99h-1.5M270.5 266.25h2.5M476.9 266.25h-2.5M270.5 247.51h1.5M476.9 247.51h-1.5M270.5 228.78h2.5M476.9 228.78h-2.5M270.5 210.04h1.5M476.9 210.04h-1.5M270.5 191.3h2.5M476.9 191.3h-2.5" stroke="#4a4a4a" stroke-width="1" fill="none"/><text x="270.5" y="348.5" text-anchor="middle" class="t">0</text><text x="339.3" y="348.5" text-anchor="middle" class="t">10</text><text x="408.1" y="348.5" text-anchor="middle" class="t">20</text><text x="476.9" y="348.5" text-anchor="middle" class="t">30</text><text x="269.2" y="342.5" text-anchor="end" class="t" textLength="15.4" lengthAdjust="spacingAndGlyphs">0.00</text><text x="269.2" y="305.03" text-anchor="end" class="t" textLength="15.4" lengthAdjust="spacingAndGlyphs">0.02</text><text x="269.2" y="267.55" text-anchor="end" class="t" textLength="15.4" lengthAdjust="spacingAndGlyphs">0.04</text><text x="269.2" y="230.08" text-anchor="end" class="t" textLength="15.4" lengthAdjust="spacingAndGlyphs">0.06</text><text x="269.2" y="192.6" text-anchor="end" class="t" textLength="15.4" lengthAdjust="spacingAndGlyphs">0.08</text><text x="375.2" y="364" text-anchor="middle" class="xl" textLength="99.5" lengthAdjust="spacingAndGlyphs">Cloud Effective Radius (μm)</text><text x="372.6" y="323.7" class="ti" textLength="93.1" lengthAdjust="spacingAndGlyphs">VIIRS M11 (2.25 <tspan font-style="italic">μ</tspan>m)</text><path d="M277 200.4H295.9" stroke="#e8303a" stroke-width="0.8" stroke-dasharray="2.4 1.7"/><text x="300.4" y="203.3" class="lg" textLength="38.3" lengthAdjust="spacingAndGlyphs">PW (300K)</text><path d="M277 212.1H295.9" stroke="#999" stroke-width="2"/><text x="300.4" y="215" class="lg" textLength="59.6" lengthAdjust="spacingAndGlyphs">Kou et al. (295K)</text><path d="M277 223.4H295.9" stroke="#000" stroke-width="1.2"/><text x="300.4" y="226.3" class="lg" textLength="59.6" lengthAdjust="spacingAndGlyphs">Kou et al. (265K)</text></g>
<g><path d="M48.04 511.76 L61.09 504.28 L62.74 502.37 L64.38 500.51 L66.03 498.69 L67.67 496.92 L69.32 495.21 L70.96 493.53 L72.61 491.91 L74.25 490.32 L75.9 488.79 L77.54 487.31 L79.19 485.89 L80.83 484.55 L82.48 483.27 L84.12 482.04 L85.77 480.83 L87.41 479.61 L89.06 478.36 L90.7 477.09 L92.35 475.82 L93.99 474.56 L95.64 473.29 L97.28 472.05 L98.93 470.82 L100.57 469.62 L102.22 468.46 L103.86 467.34 L105.51 466.25 L107.15 465.17 L108.8 464.12 L110.44 463.08 L112.09 462.06 L113.73 461.06 L115.38 460.07 L117.02 459.08 L118.67 458.11 L120.31 457.14 L121.96 456.17 L123.6 455.21 L125.25 454.25 L126.89 453.29 L128.54 452.34 L130.18 451.39 L131.83 450.45 L133.47 449.51 L135.12 448.57 L136.76 447.64 L138.41 446.71 L140.05 445.79 L141.7 444.87 L143.34 443.96 L144.99 443.05 L146.63 442.14 L148.28 441.24 L149.92 440.35 L151.57 439.45 L153.21 438.56 L154.86 437.68 L156.5 436.8 L158.15 435.92 L159.79 435.05 L161.44 434.19 L163.08 433.32 L164.73 432.46 L166.37 431.61 L168.02 430.76 L169.66 429.91 L171.31 429.07 L172.95 428.24 L174.6 427.4 L176.24 426.56 L177.89 425.73 L179.53 424.89 L181.18 424.06 L182.82 423.23 L184.47 422.41 L186.11 421.58 L187.76 420.77 L189.4 419.96 L191.05 419.15 L192.69 418.35 L194.34 417.56 L195.98 416.77 L197.63 416 L199.27 415.23 L200.92 414.47 L202.56 413.72 L204.21 412.98 L205.85 412.25 L207.5 411.53 L209.14 410.83 L210.79 410.14 L212.43 409.45 L214.08 408.78 L215.72 408.12 L217.37 407.47 L219.01 406.82 L220.66 406.18 L222.3 405.56 L223.95 404.94 L225.59 404.33 L227.24 403.72 L228.88 403.13 L230.53 402.54 L232.17 401.97 L233.82 401.4 L235.46 400.84 L237.11 400.29 L238.75 399.75 L240.4 399.21" fill="none" stroke="#000" stroke-width="1.4" stroke-linejoin="round"/><path d="M48.04 511.52 L61.09 503.98 L62.74 502.13 L64.38 500.26 L66.03 498.38 L67.67 496.5 L69.32 494.61 L70.96 492.71 L72.61 490.77 L74.25 488.75 L75.9 486.73 L77.54 484.79 L79.19 483.01 L80.83 481.42 L82.48 479.93 L84.12 478.54 L85.77 477.2 L87.41 475.91 L89.06 474.65 L90.7 473.44 L92.35 472.27 L93.99 471.14 L95.64 470.02 L97.28 468.92 L98.93 467.81 L100.57 466.69 L102.22 465.55 L103.86 464.37 L105.51 463.17 L107.15 461.94 L108.8 460.7 L110.44 459.45 L112.09 458.2 L113.73 456.96 L115.38 455.72 L117.02 454.51 L118.67 453.32 L120.31 452.16 L121.96 451.04 L123.6 449.96 L125.25 448.9 L126.89 447.86 L128.54 446.83 L130.18 445.81 L131.83 444.8 L133.47 443.81 L135.12 442.82 L136.76 441.85 L138.41 440.89 L140.05 439.93 L141.7 438.99 L143.34 438.05 L144.99 437.12 L146.63 436.2 L148.28 435.29 L149.92 434.38 L151.57 433.48 L153.21 432.58 L154.86 431.69 L156.5 430.8 L158.15 429.92 L159.79 429.04 L161.44 428.16 L163.08 427.28 L164.73 426.41 L166.37 425.54 L168.02 424.67 L169.66 423.79 L171.31 422.92 L172.95 422.05 L174.6 421.18 L176.24 420.31 L177.89 419.44 L179.53 418.58 L181.18 417.71 L182.82 416.85 L184.47 416 L186.11 415.14 L187.76 414.3 L189.4 413.45 L191.05 412.62 L192.69 411.78 L194.34 410.96 L195.98 410.14 L197.63 409.32 L199.27 408.52 L200.92 407.72 L202.56 406.93 L204.21 406.15 L205.85 405.38 L207.5 404.61 L209.14 403.86 L210.79 403.11 L212.43 402.38 L214.08 401.66 L215.72 400.94 L217.37 400.23 L219.01 399.53 L220.66 398.83 L222.3 398.14 L223.95 397.46 L225.59 396.79 L227.24 396.13 L228.88 395.47 L230.53 394.82 L232.17 394.18 L233.82 393.54 L235.46 392.92 L237.11 392.3 L238.75 391.69 L240.4 391.08" fill="none" stroke="#5858ff" stroke-width="1.1" stroke-dasharray="2.3 1.8" stroke-linejoin="round"/><path d="M34.3 373.5H240.4M34.3 523H240.4" stroke="#5a5a5a" stroke-width="1.4" fill="none" stroke-linecap="square"/><path d="M34.3 373.5V523" stroke="#888" stroke-width="1.9" fill="none"/><path d="M240.4 373.5V523" stroke="#606060" stroke-width="1.4" fill="none"/><path d="M34.3 523v-2.5M34.3 373.5v2.5M68.65 523v-1.5M68.65 373.5v1.5M103 523v-2.5M103 373.5v2.5M137.35 523v-1.5M137.35 373.5v1.5M171.7 523v-2.5M171.7 373.5v2.5M206.05 523v-1.5M206.05 373.5v1.5M240.4 523v-2.5M240.4 373.5v2.5M34.3 523h2.5M240.4 523h-2.5M34.3 508.05h1.5M240.4 508.05h-1.5M34.3 493.1h2.5M240.4 493.1h-2.5M34.3 478.15h1.5M240.4 478.15h-1.5M34.3 463.2h2.5M240.4 463.2h-2.5M34.3 448.25h1.5M240.4 448.25h-1.5M34.3 433.3h2.5M240.4 433.3h-2.5M34.3 418.35h1.5M240.4 418.35h-1.5M34.3 403.4h2.5M240.4 403.4h-2.5M34.3 388.45h1.5M240.4 388.45h-1.5M34.3 373.5h2.5M240.4 373.5h-2.5" stroke="#4a4a4a" stroke-width="1" fill="none"/><text x="34.3" y="530.3" text-anchor="middle" class="t">0</text><text x="103" y="530.3" text-anchor="middle" class="t">10</text><text x="171.7" y="530.3" text-anchor="middle" class="t">20</text><text x="240.4" y="530.3" text-anchor="middle" class="t">30</text><text x="32.2" y="524.3" text-anchor="end" class="t" textLength="15.4" lengthAdjust="spacingAndGlyphs">0.00</text><text x="32.2" y="494.4" text-anchor="end" class="t" textLength="15.4" lengthAdjust="spacingAndGlyphs">0.05</text><text x="32.2" y="464.5" text-anchor="end" class="t" textLength="15.4" lengthAdjust="spacingAndGlyphs">0.10</text><text x="32.2" y="434.6" text-anchor="end" class="t" textLength="15.4" lengthAdjust="spacingAndGlyphs">0.15</text><text x="32.2" y="404.7" text-anchor="end" class="t" textLength="15.4" lengthAdjust="spacingAndGlyphs">0.20</text><text x="32.2" y="374.8" text-anchor="end" class="t" textLength="15.4" lengthAdjust="spacingAndGlyphs">0.25</text><text x="138.85" y="545.8" text-anchor="middle" class="xl" textLength="99.5" lengthAdjust="spacingAndGlyphs">Cloud Effective Radius (μm)</text><text transform="translate(11.6 449.75) rotate(-90)" text-anchor="middle" class="yl" textLength="19.6" lengthAdjust="spacingAndGlyphs">1-SSA</text><text x="135.5" y="505.5" class="ti" textLength="99.0" lengthAdjust="spacingAndGlyphs">MODIS B20 (3.75 <tspan font-style="italic">μ</tspan>m)</text><path d="M42.2 382.8H56.6" stroke="#5858ff" stroke-width="1.1" stroke-dasharray="2.3 1.8"/><text x="61.3" y="385.7" class="lg2" textLength="44" lengthAdjust="spacingAndGlyphs">DW (300K)</text><path d="M42.2 394.5H56.6" stroke="#000" stroke-width="1.4"/><text x="61.3" y="397.4" class="lg2" textLength="74.4" lengthAdjust="spacingAndGlyphs">Wagner et al. (269K)</text></g>
<g><path d="M284.76 510.5 L298.31 500.57 L299.96 498.45 L301.6 496.36 L303.24 494.29 L304.89 492.26 L306.53 490.26 L308.17 488.27 L309.81 486.3 L311.46 484.28 L313.1 482.26 L314.74 480.32 L316.39 478.53 L318.03 476.95 L319.67 475.5 L321.32 474.05 L322.96 472.6 L324.6 471.16 L326.24 469.74 L327.89 468.32 L329.53 466.93 L331.17 465.55 L332.82 464.2 L334.46 462.88 L336.1 461.59 L337.75 460.34 L339.39 459.12 L341.03 457.95 L342.67 456.8 L344.32 455.69 L345.96 454.6 L347.6 453.53 L349.25 452.48 L350.89 451.45 L352.53 450.42 L354.18 449.41 L355.82 448.4 L357.46 447.39 L359.1 446.38 L360.75 445.36 L362.39 444.34 L364.03 443.33 L365.68 442.31 L367.32 441.3 L368.96 440.28 L370.61 439.27 L372.25 438.26 L373.89 437.26 L375.53 436.25 L377.18 435.25 L378.82 434.26 L380.46 433.26 L382.11 432.28 L383.75 431.29 L385.39 430.32 L387.04 429.34 L388.68 428.38 L390.32 427.42 L391.96 426.46 L393.61 425.52 L395.25 424.58 L396.89 423.65 L398.54 422.73 L400.18 421.81 L401.82 420.91 L403.47 420.01 L405.11 419.12 L406.75 418.25 L408.39 417.38 L410.04 416.53 L411.68 415.68 L413.32 414.84 L414.97 414.02 L416.61 413.2 L418.25 412.39 L419.9 411.59 L421.54 410.79 L423.18 410 L424.82 409.22 L426.47 408.45 L428.11 407.68 L429.75 406.91 L431.4 406.15 L433.04 405.4 L434.68 404.65 L436.33 403.9 L437.97 403.15 L439.61 402.41 L441.25 401.67 L442.9 400.93 L444.54 400.2 L446.18 399.47 L447.83 398.74 L449.47 398.01 L451.11 397.29 L452.76 396.58 L454.4 395.86 L456.04 395.15 L457.68 394.45 L459.33 393.75 L460.97 393.05 L462.61 392.35 L464.26 391.67 L465.9 390.98 L467.54 390.3 L469.19 389.62 L470.83 388.95 L472.47 388.28 L474.11 387.61 L475.76 386.95 L477.4 386.3" fill="none" stroke="#000" stroke-width="1.4" stroke-linejoin="round"/><path d="M284.76 510.26 L298.31 500.28 L299.96 498.1 L301.6 495.91 L303.24 493.7 L304.89 491.43 L306.53 489.06 L308.17 486.65 L309.81 484.24 L311.46 481.88 L313.1 479.62 L314.74 477.51 L316.39 475.6 L318.03 473.85 L319.67 472.17 L321.32 470.56 L322.96 469.01 L324.6 467.51 L326.24 466.07 L327.89 464.67 L329.53 463.3 L331.17 461.96 L332.82 460.65 L334.46 459.35 L336.1 458.06 L337.75 456.77 L339.39 455.48 L341.03 454.19 L342.67 452.93 L344.32 451.68 L345.96 450.46 L347.6 449.25 L349.25 448.06 L350.89 446.89 L352.53 445.73 L354.18 444.58 L355.82 443.45 L357.46 442.32 L359.1 441.21 L360.75 440.11 L362.39 439.01 L364.03 437.92 L365.68 436.83 L367.32 435.75 L368.96 434.67 L370.61 433.6 L372.25 432.54 L373.89 431.48 L375.53 430.43 L377.18 429.39 L378.82 428.35 L380.46 427.31 L382.11 426.29 L383.75 425.27 L385.39 424.26 L387.04 423.25 L388.68 422.25 L390.32 421.26 L391.96 420.27 L393.61 419.29 L395.25 418.32 L396.89 417.35 L398.54 416.4 L400.18 415.45 L401.82 414.5 L403.47 413.57 L405.11 412.64 L406.75 411.72 L408.39 410.81 L410.04 409.91 L411.68 409.01 L413.32 408.13 L414.97 407.26 L416.61 406.39 L418.25 405.54 L419.9 404.69 L421.54 403.85 L423.18 403.01 L424.82 402.19 L426.47 401.36 L428.11 400.55 L429.75 399.74 L431.4 398.93 L433.04 398.12 L434.68 397.32 L436.33 396.52 L437.97 395.73 L439.61 394.93 L441.25 394.14 L442.9 393.34 L444.54 392.55 L446.18 391.76 L447.83 390.98 L449.47 390.19 L451.11 389.41 L452.76 388.64 L454.4 387.86 L456.04 387.09 L457.68 386.33 L459.33 385.56 L460.97 384.8 L462.61 384.04 L464.26 383.29 L465.9 382.54 L467.54 381.79 L469.19 381.05 L470.83 380.31 L472.47 379.58 L474.11 378.84 L475.76 378.11 L477.4 377.39" fill="none" stroke="#5858ff" stroke-width="1.1" stroke-dasharray="2.3 1.8" stroke-linejoin="round"/><path d="M271 373.5H477.4M271 523H477.4" stroke="#5a5a5a" stroke-width="1.4" fill="none" stroke-linecap="square"/><path d="M271 373.5V523" stroke="#808080" stroke-width="1.7" fill="none"/><path d="M477.4 373.5V523" stroke="#606060" stroke-width="1.4" fill="none"/><path d="M271 523v-2.5M271 373.5v2.5M305.4 523v-1.5M305.4 373.5v1.5M339.8 523v-2.5M339.8 373.5v2.5M374.2 523v-1.5M374.2 373.5v1.5M408.6 523v-2.5M408.6 373.5v2.5M443 523v-1.5M443 373.5v1.5M477.4 523v-2.5M477.4 373.5v2.5M271.0 523h2.5M477.4 523h-2.5M271.0 508.05h1.5M477.4 508.05h-1.5M271.0 493.1h2.5M477.4 493.1h-2.5M271.0 478.15h1.5M477.4 478.15h-1.5M271.0 463.2h2.5M477.4 463.2h-2.5M271.0 448.25h1.5M477.4 448.25h-1.5M271.0 433.3h2.5M477.4 433.3h-2.5M271.0 418.35h1.5M477.4 418.35h-1.5M271.0 403.4h2.5M477.4 403.4h-2.5M271.0 388.45h1.5M477.4 388.45h-1.5M271.0 373.5h2.5M477.4 373.5h-2.5" stroke="#4a4a4a" stroke-width="1" fill="none"/><text x="271" y="530.3" text-anchor="middle" class="t">0</text><text x="339.8" y="530.3" text-anchor="middle" class="t">10</text><text x="408.6" y="530.3" text-anchor="middle" class="t">20</text><text x="477.4" y="530.3" text-anchor="middle" class="t">30</text><text x="269.2" y="524.3" text-anchor="end" class="t" textLength="15.4" lengthAdjust="spacingAndGlyphs">0.00</text><text x="269.2" y="494.4" text-anchor="end" class="t" textLength="15.4" lengthAdjust="spacingAndGlyphs">0.05</text><text x="269.2" y="464.5" text-anchor="end" class="t" textLength="15.4" lengthAdjust="spacingAndGlyphs">0.10</text><text x="269.2" y="434.6" text-anchor="end" class="t" textLength="15.4" lengthAdjust="spacingAndGlyphs">0.15</text><text x="269.2" y="404.7" text-anchor="end" class="t" textLength="15.4" lengthAdjust="spacingAndGlyphs">0.20</text><text x="269.2" y="374.8" text-anchor="end" class="t" textLength="15.4" lengthAdjust="spacingAndGlyphs">0.25</text><text x="375.7" y="545.8" text-anchor="middle" class="xl" textLength="99.5" lengthAdjust="spacingAndGlyphs">Cloud Effective Radius (μm)</text><text x="372.6" y="505.5" class="ti" textLength="94.2" lengthAdjust="spacingAndGlyphs">VIIRS M12 (3.70 <tspan font-style="italic">μ</tspan>m)</text><path d="M278.9 382.8H293.3" stroke="#5858ff" stroke-width="1.1" stroke-dasharray="2.3 1.8"/><text x="298" y="385.7" class="lg2" textLength="44" lengthAdjust="spacingAndGlyphs">DW (300K)</text><path d="M278.9 394.5H293.3" stroke="#000" stroke-width="1.4"/><text x="298" y="397.4" class="lg2" textLength="74.4" lengthAdjust="spacingAndGlyphs">Wagner et al. (269K)</text></g>
</g></svg>
</body></html>
